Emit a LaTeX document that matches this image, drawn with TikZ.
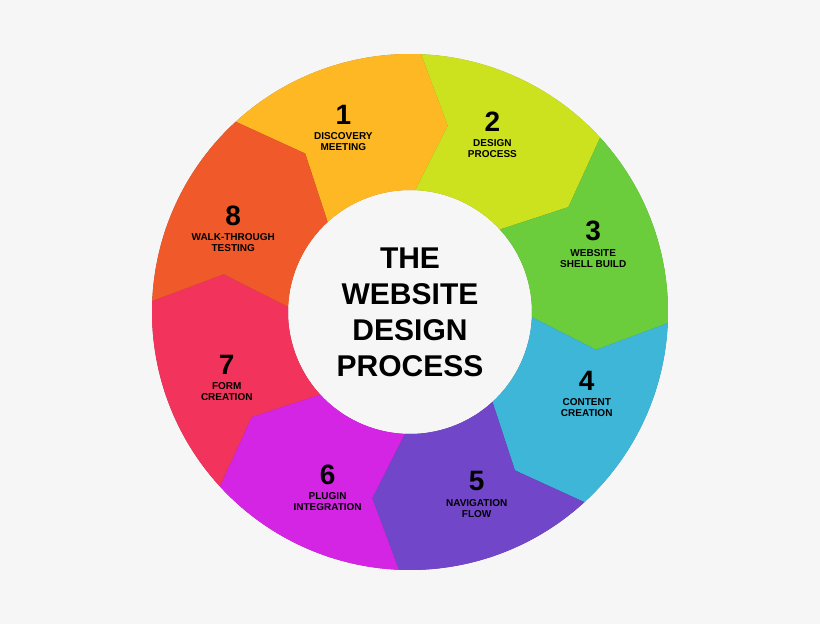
\documentclass[tikz,border=0pt]{standalone}
\usepackage{fontspec}
\setmainfont{Liberation Sans}
\definecolor{bg}{HTML}{F6F6F6}
\definecolor{c1}{HTML}{FDB823}\definecolor{c2}{HTML}{CDE21E}
\definecolor{c3}{HTML}{6BCD3C}\definecolor{c4}{HTML}{3DB6D8}
\definecolor{c5}{HTML}{7146C9}\definecolor{c6}{HTML}{D424E4}
\definecolor{c7}{HTML}{F2335C}\definecolor{c8}{HTML}{F05A2A}
\tikzset{numtxt/.style={font=\bfseries\fontsize{28}{28}\selectfont},
lbltxt/.style={font=\bfseries\fontsize{10}{11}\selectfont,align=center},
centertxt/.style={font=\bfseries\fontsize{30}{36}\selectfont,align=center}}
\begin{document}
\begin{tikzpicture}[x=1pt,y=1pt]
\fill[bg] (0,0) rectangle (820,624);
\useasboundingbox (0,0) rectangle (820,624);
\coordinate (O) at (410,312);
\def\Ro{258}\def\Ri{122}\def\Rm{190}
\foreach \i/\col/\num/\txt in {1/c1/1/{DISCOVERY\\MEETING},2/c2/2/{DESIGN\\PROCESS},3/c3/3/{WEBSITE\\SHELL BUILD},4/c4/4/{CONTENT\\CREATION},5/c5/5/{NAVIGATION\\FLOW},6/c6/6/{PLUGIN\\INTEGRATION},7/c7/7/{FORM\\CREATION},8/c8/8/{WALK-THROUGH\\TESTING}}{
 \pgfmathsetmacro\a{110-45*(\i-1)}
 \pgfmathsetmacro\s{\a+22.5}\pgfmathsetmacro\e{\a-22.5}
 \pgfmathsetmacro\et{\e-9}\pgfmathsetmacro\st{\s-9}
 \fill[\col!70!black,shift={(4,-6)}] ([shift={(\s:\Ro)}]O) arc[start angle=\s,end angle=\e,radius=\Ro]
   -- ([shift={(\et:\Rm)}]O) -- ([shift={(\e:\Ri)}]O) arc[start angle=\e,end angle=\s,radius=\Ri]
   -- ([shift={(\st:\Rm)}]O) -- cycle;
 \fill[\col] ([shift={(\s:\Ro)}]O) arc[start angle=\s,end angle=\e,radius=\Ro]
   -- ([shift={(\et:\Rm)}]O) -- ([shift={(\e:\Ri)}]O) arc[start angle=\e,end angle=\s,radius=\Ri]
   -- ([shift={(\st:\Rm)}]O) -- cycle;
 \node[numtxt] (n\i) at ([shift={(\a:195)}]O) [yshift=14pt] {\num};
 \node[lbltxt,below=1pt] (l\i) at (n\i.south) {\txt};
}
\fill[bg] (O) circle (\Ri-1);
\node[centertxt] (c) at (O) {THE\\WEBSITE\\DESIGN\\PROCESS};
\end{tikzpicture}
\end{document}
